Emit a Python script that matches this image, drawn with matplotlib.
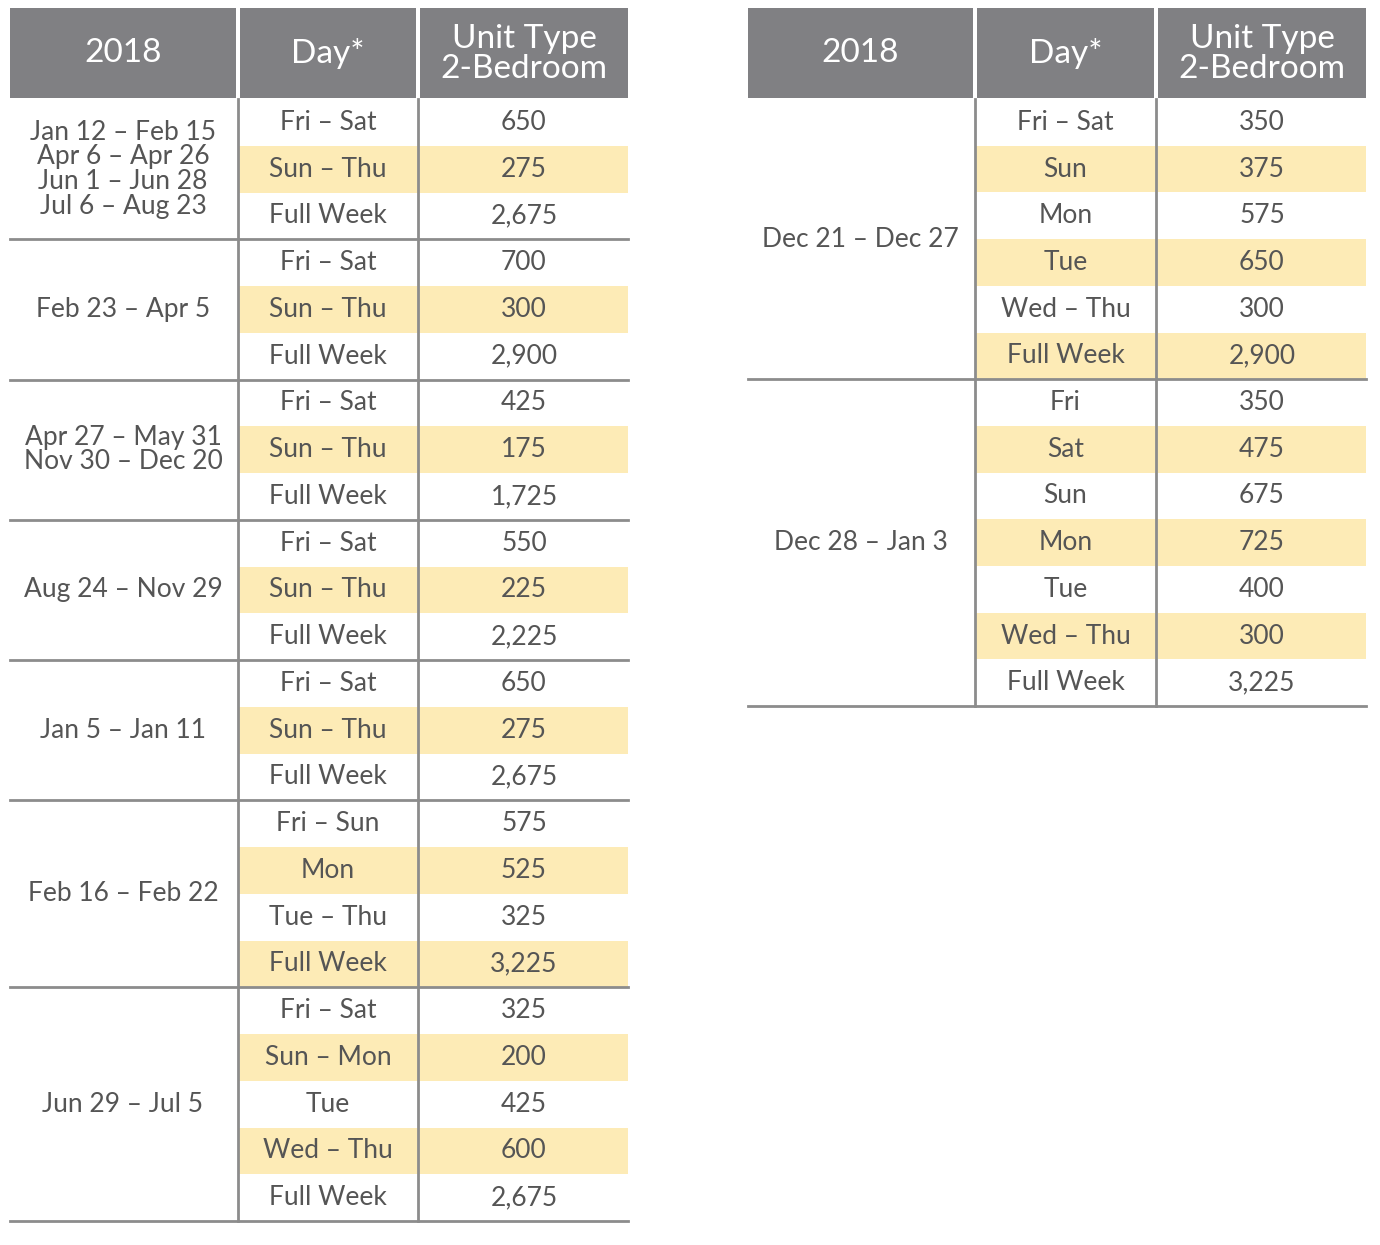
import matplotlib.pyplot as plt
from matplotlib.patches import Rectangle

plt.rcParams['font.family'] = ['Lato', 'DejaVu Sans']

header = ["2018", "Day*", "Unit Type\n2-Bedroom"]

left_dates = ["Jan 12 – Feb 15\nApr 6 – Apr 26\nJun 1 – Jun 28\nJul 6 – Aug 23",
              "Feb 23 – Apr 5", "Apr 27 – May 31\nNov 30 – Dec 20",
              "Aug 24 – Nov 29", "Jan 5 – Jan 11", "Feb 16 – Feb 22", "Jun 29 – Jul 5"]
left_days = [["Fri – Sat", "Sun – Thu", "Full Week"],
             ["Fri – Sat", "Sun – Thu", "Full Week"],
             ["Fri – Sat", "Sun – Thu", "Full Week"],
             ["Fri – Sat", "Sun – Thu", "Full Week"],
             ["Fri – Sat", "Sun – Thu", "Full Week"],
             ["Fri – Sun", "Mon", "Tue – Thu", "Full Week"],
             ["Fri – Sat", "Sun – Mon", "Tue", "Wed – Thu", "Full Week"]]
left_prices = [["650", "275", "2,675"], ["700", "300", "2,900"],
               ["425", "175", "1,725"], ["550", "225", "2,225"],
               ["650", "275", "2,675"], ["575", "525", "325", "3,225"],
               ["325", "200", "425", "600", "2,675"]]

right_dates = ["Dec 21 – Dec 27", "Dec 28 – Jan 3"]
right_days = [["Fri – Sat", "Sun", "Mon", "Tue", "Wed – Thu", "Full Week"],
              ["Fri", "Sat", "Sun", "Mon", "Tue", "Wed – Thu", "Full Week"]]
right_prices = [["350", "375", "575", "650", "300", "2,900"],
                ["350", "475", "675", "725", "400", "300", "3,225"]]

GRAY = "#808083"
LINE = "#8c8c8c"
YELLOW = "#fdebb6"
TEXT = "#555555"

fig = plt.figure(figsize=(13.8, 12.45), dpi=100)
ax = fig.add_axes([0, 0, 1, 1])
ax.set_xlim(0, 1380)
ax.set_ylim(1245, 0)
ax.axis("off")


def draw_table(cols, top, row_h, dates, days, prices):
    # header
    for (x0, x1), h in zip(cols, header):
        ax.add_patch(Rectangle((x0, 8), x1 - x0, top - 9, color=GRAY, lw=0))
        ax.text((x0 + x1) / 2, (8 + top) / 2, h, color="white", fontsize=24,
                ha="center", va="center", linespacing=1.0)
    y = top
    for d, ds, ps in zip(dates, days, prices):
        g0 = y
        for i, (day, p) in enumerate(zip(ds, ps)):
            if i % 2 == 1:
                ax.add_patch(Rectangle((cols[1][0] - 2, y), cols[2][1] - cols[1][0] + 2,
                                       row_h, color=YELLOW, lw=0))
            ax.text(sum(cols[1]) / 2, y + row_h / 2, day, color=TEXT, fontsize=19,
                    ha="center", va="center")
            ax.text(sum(cols[2]) / 2, y + row_h / 2, p, color=TEXT, fontsize=19,
                    ha="center", va="center")
            y += row_h
        ax.text(sum(cols[0]) / 2, (g0 + y) / 2, d, color=TEXT, fontsize=19,
                ha="center", va="center", linespacing=0.98)
        ax.plot([cols[0][0], cols[2][1]], [y, y], color=LINE, lw=2)
    for x in (cols[0][1] + 2, cols[1][1] + 2):
        ax.plot([x, x], [top, y], color=LINE, lw=2)


draw_table([(10, 236), (240, 416), (420, 628)], 99, 46.75,
           left_dates, left_days, left_prices)
draw_table([(748, 973), (977, 1154), (1158, 1366)], 99, 46.7,
           right_dates, right_days, right_prices)

fig.savefig("out.png", dpi=100)
